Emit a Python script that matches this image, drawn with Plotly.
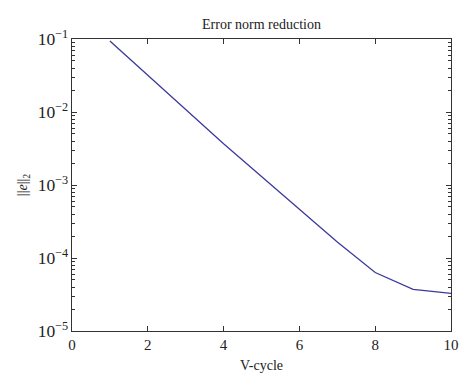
import plotly.graph_objects as go

cycles = [1, 2, 3, 4, 5, 6, 7, 8, 9, 10]
err_norm = [0.094, 0.0321, 0.01086, 0.00367, 0.00131, 4.69e-4, 1.655e-4, 6.32e-5, 3.72e-5, 3.27e-5]

font_family = "Liberation Serif"

fig = go.Figure()
fig.add_trace(go.Scatter(x=cycles, y=err_norm, mode="lines",
                         line=dict(color="#3a3a9c", width=1.3), showlegend=False))

fig.update_layout(
    width=474, height=392,
    margin=dict(l=72, r=23, t=39, b=61),
    paper_bgcolor="white", plot_bgcolor="white",
    font=dict(family=font_family, size=14, color="#222"),
    title=dict(text="Error norm reduction", x=0.5, xref="paper", xanchor="center",
               y=1 - 24/392, yanchor="middle", font=dict(size=14, family=font_family)),
    xaxis=dict(range=[0, 10], dtick=2, tick0=0, showgrid=False, zeroline=False,
               showline=True, linecolor="#333", linewidth=1, mirror="allticks",
               ticks="inside", ticklen=5, tickcolor="#333",
               title=dict(text="V-cycle", standoff=8, font=dict(size=14)),
               tickfont=dict(size=15)),
    yaxis=dict(type="log", range=[-5, -1], dtick=1, exponentformat="power",
               showgrid=False, zeroline=False,
               showline=True, linecolor="#333", linewidth=1, mirror="allticks",
               ticks="inside", ticklen=5, tickcolor="#333",
               minor=dict(ticks="inside", ticklen=3, tickcolor="#333", showgrid=False),
               title=dict(text="||<i>e</i>||<sub>2</sub>", standoff=6, font=dict(size=14)),
               tickfont=dict(size=14)),
)

fig.write_html("out.html")
